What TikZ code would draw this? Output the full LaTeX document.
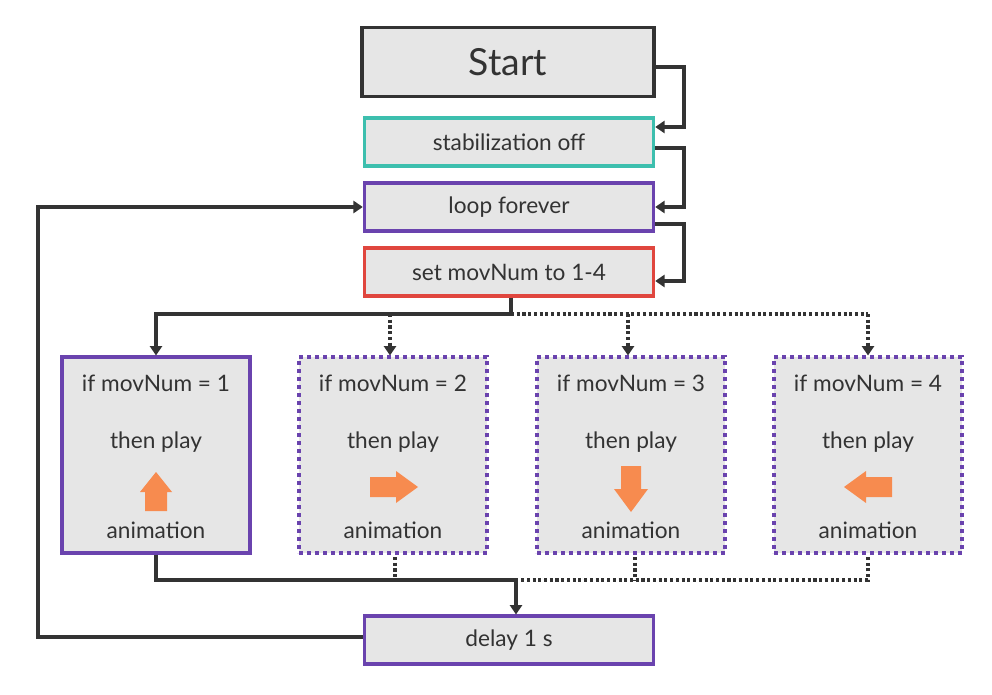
\documentclass[tikz,border=0pt]{standalone}
\usepackage{fontspec}
\setmainfont{Lato}
\usetikzlibrary{arrows.meta}
\definecolor{boxg}{HTML}{E6E6E6}
\definecolor{dk}{HTML}{333333}
\definecolor{teal}{HTML}{3DBFAE}
\definecolor{purp}{HTML}{6A43AE}
\definecolor{redb}{HTML}{E0463E}
\definecolor{org}{HTML}{F78B4F}
\begin{document}
\begin{tikzpicture}[x=0.75pt,y=-0.75pt,
 box/.style={draw, fill=boxg, line width=2.3pt, inner sep=0pt, text=dk},
 con/.style={draw=dk, line width=2.3pt, -{Triangle[length=7pt,width=9pt]}},
 dcon/.style={draw=dk, line width=2.3pt, dotted, -{Triangle[length=7pt,width=9pt]}},
 dln/.style={draw=dk, line width=2.3pt, dotted},
 ln/.style={draw=dk, line width=2.3pt},
 ar/.style={fill=org, draw=none}]
\useasboundingbox (0,0) rectangle (992,695);
\node[box, draw=dk, minimum width=219pt, minimum height=52pt, font=\fontsize{28}{30}\selectfont] (start) at (508,62) {Start};
\node[box, draw=teal, minimum width=217pt, minimum height=36pt, font=\fontsize{17}{19}\selectfont] (stab) at (509,142) {stabilization off};
\node[box, draw=purp, minimum width=217pt, minimum height=36pt, font=\fontsize{17}{19}\selectfont] (loop) at (509,207) {loop forever};
\node[box, draw=redb, minimum width=217pt, minimum height=36pt, font=\fontsize{17}{19}\selectfont] (set) at (509,272) {set movNum to 1-4};
\node[box, draw=purp, minimum width=217pt, minimum height=36pt, font=\fontsize{17}{19}\selectfont] (delay) at (509,640) {delay 1 s};
\foreach \n/\cx/\st in {1/156/solid,2/393/dashed,3/631/dashed,4/868/dashed}{
 \node[box, draw=purp, \st, minimum width=141pt, minimum height=147pt] (b\n) at (\cx,455) {};
 \node[font=\fontsize{17}{19}\selectfont, text=dk] at (\cx,383) {if movNum = \n};
 \node[font=\fontsize{17}{19}\selectfont, text=dk] at (\cx,442) {then play};
 \node[font=\fontsize{17}{19}\selectfont, text=dk] at (\cx,530) {animation};
}
% arrows
\fill[ar] (145,511) -- (145,492) -- (140,492) -- (156,472) -- (172,492) -- (167,492) -- (167,511) -- cycle;
\fill[ar] (370,477) -- (396,477) -- (396,471) -- (418,487) -- (396,503) -- (396,497) -- (370,497) -- cycle;
\fill[ar] (621,466) -- (641,466) -- (641,489) -- (648,489) -- (631,512) -- (614,489) -- (621,489) -- cycle;
\fill[ar] (892,477) -- (866,477) -- (866,471) -- (844,487) -- (866,503) -- (866,497) -- (892,497) -- cycle;
% connectors
\coordinate (c1) at (684,127);
\draw[con] (start.east|-0,67) -| (684,97) |- (stab.east|-0,127);
\draw[con] (stab.east|-0,148) -| (684,170) |- (loop.east|-0,207);
\draw[con] (loop.east|-0,224) -| (684,240) |- (set.east|-0,281);
\draw[con] (set.south-|511,0) |- (300,314) -| (b1.north);
\draw[dln] (511,314) -- (868,314);
\draw[dcon] (390,314) -- (b2.north-|390,0);
\draw[dcon] (628,314) -- (b3.north-|628,0);
\draw[dcon] (868,314) -- (b4.north);
\draw[con] (b1.south) |- (516,580) -- (delay.north-|516,0);
\draw[dln] (395,557) -- (395,580) -- (868,580) -- (868,557);
\draw[dln] (635,557) -- (635,580);
\draw[con] (delay.west|-0,637) -| (38,300) |- (loop.west);
\end{tikzpicture}
\end{document}
